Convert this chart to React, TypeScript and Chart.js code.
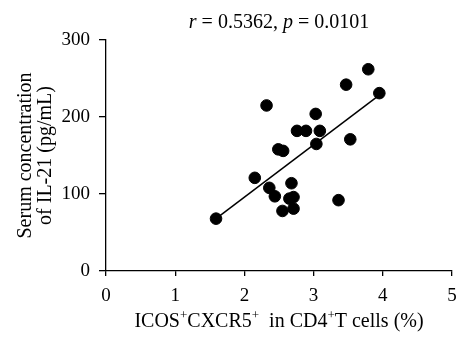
import React, { useEffect, useRef } from "react";
import { Chart, registerables } from "chart.js";

Chart.register(...registerables);

const xValues = [1.59, 2.15, 2.32, 2.36, 2.44, 2.49, 2.56, 2.55, 2.68, 2.65, 2.71, 2.71, 2.76, 2.89, 3.03, 3.09, 3.04, 3.36, 3.47, 3.53, 3.79, 3.95];
const yValues = [68, 121, 215, 108, 97, 158, 156, 78, 114, 94, 96, 81, 182, 182, 204, 182, 165, 92, 242, 171, 262, 231];
const fitX = [1.59, 3.93];
const fitY = [68, 227];
const xTicks = [0, 1, 2, 3, 4, 5];
const yTicks = [0, 100, 200, 300];

const FONT = "'Liberation Serif', 'Times New Roman', serif";

type Seg = { t: string; it?: boolean; sup?: boolean };

function drawSegs(ctx: CanvasRenderingContext2D, segs: Seg[], cx: number, y: number, size: number) {
  const fontFor = (s: Seg) => `${s.it ? "italic " : ""}${s.sup ? Math.round(size * 0.65) : size}px ${FONT}`;
  let total = 0;
  for (const s of segs) {
    ctx.font = fontFor(s);
    total += ctx.measureText(s.t).width;
  }
  let x = cx - total / 2;
  ctx.textAlign = "left";
  ctx.textBaseline = "alphabetic";
  for (const s of segs) {
    ctx.font = fontFor(s);
    ctx.fillText(s.t, x, s.sup ? y - size * 0.38 : y);
    x += ctx.measureText(s.t).width;
  }
}

const labelsPlugin = {
  id: "labelsPlugin",
  afterDraw(chart: any) {
    const ctx = chart.ctx as CanvasRenderingContext2D;
    const area = chart.chartArea;
    const cx = (area.left + area.right) / 2;
    ctx.save();
    ctx.fillStyle = "#000";
    drawSegs(ctx, [
      { t: "r", it: true }, { t: " = 0.5362, " }, { t: "p", it: true }, { t: " = 0.0101" },
    ], cx, 28, 20);
    drawSegs(ctx, [
      { t: "ICOS" }, { t: "+", sup: true }, { t: "CXCR5" }, { t: "+", sup: true },
      { t: "  in CD4" }, { t: "+", sup: true }, { t: "T cells (%)" },
    ], cx, 327, 20);
    const cy = (area.top + area.bottom) / 2;
    ctx.translate(0, cy);
    ctx.rotate(-Math.PI / 2);
    drawSegs(ctx, [{ t: "Serum concentration" }], 0, 31, 20);
    drawSegs(ctx, [{ t: "of IL-21 (pg/mL)" }], 0, 51, 20);
    ctx.restore();
  },
};

export default function App() {
  const ref = useRef<HTMLCanvasElement>(null);
  useEffect(() => {
    if (!ref.current) return;
    const chart = new Chart(ref.current, {
      type: "scatter",
      data: {
        datasets: [
          {
            data: xValues.map((x, i) => ({ x, y: yValues[i] })),
            backgroundColor: "#000",
            borderColor: "#000",
            pointRadius: 5.8,
            pointHoverRadius: 5.8,
          },
          {
            type: "line",
            data: fitX.map((x, i) => ({ x, y: fitY[i] })),
            borderColor: "#000",
            borderWidth: 1.5,
            pointRadius: 0,
            fill: false,
          } as any,
        ],
      },
      options: {
        animation: false,
        responsive: false,
        layout: { padding: { left: 0, right: 22, top: 40, bottom: 0 } },
        plugins: { legend: { display: false }, tooltip: { enabled: false }, title: { display: false } },
        scales: {
          x: {
            type: "linear",
            min: 0,
            max: 5,
            afterBuildTicks: (s: any) => { s.ticks = xTicks.map((v) => ({ value: v })); },
            afterFit: (s: any) => { s.height = 80; },
            grid: { drawOnChartArea: false, drawTicks: true, tickLength: 5, color: "#000", lineWidth: 1.3 },
            border: { color: "#000", width: 1.3 },
            ticks: { color: "#000", font: { family: FONT, size: 19 }, padding: 9, maxRotation: 0 },
          },
          y: {
            type: "linear",
            min: 0,
            max: 300,
            afterBuildTicks: (s: any) => { s.ticks = yTicks.map((v) => ({ value: v })); },
            afterFit: (s: any) => { s.width = 106; },
            grid: { drawOnChartArea: false, drawTicks: true, tickLength: 7, color: "#000", lineWidth: 1.3 },
            border: { color: "#000", width: 1.3 },
            ticks: { color: "#000", font: { family: FONT, size: 19 }, padding: 9 },
          },
        },
      },
      plugins: [labelsPlugin],
    });
    return () => chart.destroy();
  }, []);
  return (
    <div style={{ position: "fixed", left: 0, top: 0, width: 474, height: 351, background: "#fff" }}>
      <canvas ref={ref} width={474} height={351} style={{ width: 474, height: 351 }} />
    </div>
  );
}
